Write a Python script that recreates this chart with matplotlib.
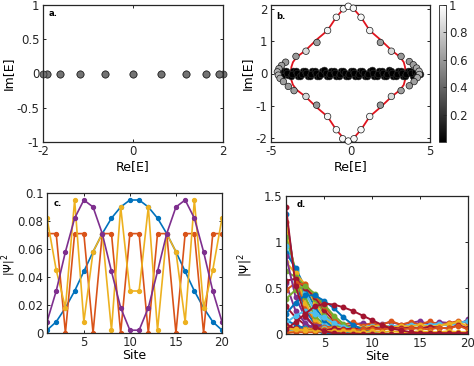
import matplotlib
matplotlib.use('Agg')
import matplotlib.pyplot as plt
import numpy as np

# ---- data ----

# a. eigenvalues of the hermitian ring
eig_a_re = [2.0, 1.902, 1.902, 1.618, 1.618, 1.176, 1.176, 0.618, 0.618, 0.0,
            0.0, -0.618, -0.618, -1.176, -1.176, -1.618, -1.618, -1.902, -1.902, -2.0]
eig_a_im = [0, 0, 0, 0, 0, 0, 0, 0, 0, 0, 0, 0, 0, 0, 0, 0, 0, 0, 0, 0]

# b. spectrum, outer points (with colour value) and the dense band on the real axis
env_re = [-0.45, -0.14, 0.18, -0.89, 0.66, -1.44, 1.21, -2.11, 1.88, -2.80, 2.57, -3.43, 3.18,
          -4.08, -4.33, -4.50, -4.60, -4.54, -4.43, -4.22, -3.91,
          3.70, 3.95, 4.16, 4.31, 4.33, 4.20, 4.00, 3.70,
          -3.55, 3.18, -2.80, 2.57, -2.13, 1.88, -1.44, 1.21, -0.89, 0.66, -0.49, -0.14, 0.22]
env_im = [2.00, 2.08, 2.02, 1.74, 1.74, 1.33, 1.33, 0.96, 0.96, 0.69, 0.69, 0.53, 0.53,
          0.35, 0.25, 0.15, 0.05, -0.05, -0.15, -0.25, -0.40,
          0.37, 0.27, 0.17, 0.07, -0.03, -0.13, -0.25, -0.38,
          -0.53, -0.53, -0.71, -0.71, -0.98, -0.98, -1.33, -1.33, -1.74, -1.74, -2.02, -2.09, -2.02]
env_c = [0.97, 1.0, 0.97, 0.97, 0.97, 0.95, 0.95, 0.62, 0.62, 0.85, 0.85, 0.6, 0.6,
         0.6, 0.62, 0.66, 0.7, 0.7, 0.66, 0.62, 0.6,
         0.6, 0.62, 0.66, 0.7, 0.7, 0.66, 0.62, 0.6,
         0.62, 0.62, 0.85, 0.85, 0.6, 0.6, 0.95, 0.95, 0.97, 0.97, 0.97, 1.0, 0.97]

band_re = [-4.35, -4.20, -4.28, -4.05, -3.90, -3.97, -3.75, -3.60, -3.68, -3.45, -3.30, -3.37,
           -3.15, -3.00, -3.08, -2.85, -2.70, -2.78, -2.55, -2.40, -2.47, -2.25, -2.10, -2.18,
           -1.95, -1.80, -1.88, -1.65, -1.50, -1.57, -1.35, -1.20, -1.28, -1.05, -0.90, -0.97,
           -0.75, -0.60, -0.68, -0.45, -0.30, -0.37, -0.15, 0.00, -0.08, 0.15, 0.30, 0.22,
           0.45, 0.60, 0.52, 0.75, 0.90, 0.82, 1.05, 1.20, 1.12, 1.35, 1.50, 1.42,
           1.65, 1.80, 1.72, 1.95, 2.10, 2.02, 2.25, 2.40, 2.32, 2.55, 2.70, 2.62,
           2.85, 3.00, 2.92, 3.15, 3.30, 3.22, 3.45, 3.60, 3.52, 3.75, 3.90, 3.82,
           4.05, 4.20, 4.35]
band_im = [0.00, 0.07, -0.07, 0.08, -0.05, 0.02, -0.08, 0.07, 0.00, 0.09, -0.07, 0.02,
           -0.09, 0.08, 0.00, 0.07, -0.09, 0.03, -0.07, 0.09, 0.00, 0.08, -0.08, 0.02,
           -0.09, 0.07, 0.00, 0.10, -0.08, 0.03, -0.07, 0.09, 0.00, 0.08, -0.09, 0.02,
           -0.08, 0.07, 0.00, 0.09, -0.07, 0.03, -0.09, 0.08, 0.00, 0.07, -0.08, 0.02,
           -0.07, 0.09, 0.00, 0.08, -0.09, 0.03, -0.08, 0.07, 0.00, 0.10, -0.08, 0.02,
           -0.07, 0.09, 0.00, 0.08, -0.09, 0.03, -0.08, 0.10, 0.00, 0.07, -0.08, 0.02,
           -0.09, 0.08, 0.00, 0.07, -0.07, 0.03, -0.08, 0.08, 0.00, 0.07, -0.07, 0.02,
           0.05, -0.05, 0.00]

# b. red boundary curve
red_re = [-0.12, 0.20, 0.66, 1.21, 1.85, 2.60, 3.12, 3.35, 3.43, 3.45, 3.43, 3.35, 3.12, 2.60,
          1.85, 1.21, 0.66, 0.20, -0.12, -0.44, -0.90, -1.45, -2.10, -2.84, -3.38, -3.62,
          -3.72, -3.75, -3.72, -3.62, -3.38, -2.84, -2.10, -1.45, -0.90, -0.44, -0.12]
red_im = [2.07, 2.00, 1.74, 1.33, 1.06, 0.71, 0.51, 0.35, 0.20, 0.00, -0.20, -0.35, -0.51, -0.71,
          -1.06, -1.33, -1.74, -2.00, -2.07, -2.00, -1.74, -1.33, -1.06, -0.71, -0.51, -0.35,
          -0.20, 0.00, 0.20, 0.35, 0.51, 0.71, 1.06, 1.33, 1.74, 2.00, 2.07]

# c. four eigenstates
site = np.arange(1, 21)
psi_blue = [0.002, 0.008, 0.018, 0.030, 0.044, 0.058, 0.071, 0.082, 0.090, 0.095,
            0.095, 0.090, 0.082, 0.071, 0.058, 0.044, 0.030, 0.018, 0.008, 0.002]
psi_red = [0.071, 0.071, 0.0, 0.071, 0.071, 0.0, 0.071, 0.071, 0.0, 0.071,
           0.071, 0.0, 0.071, 0.071, 0.0, 0.071, 0.071, 0.0, 0.071, 0.071]
psi_yellow = [0.082, 0.045, 0.018, 0.095, 0.008, 0.058, 0.071, 0.002, 0.090, 0.030,
              0.030, 0.090, 0.002, 0.071, 0.058, 0.008, 0.095, 0.018, 0.045, 0.082]
psi_purple = [0.008, 0.030, 0.058, 0.082, 0.095, 0.090, 0.071, 0.044, 0.018, 0.002,
              0.002, 0.018, 0.044, 0.071, 0.090, 0.095, 0.082, 0.058, 0.030, 0.008]

# d. skin-mode eigenstates
psi_d = [
    [1.30, 0.58, 0.26, 0.11, 0.05, 0.02, 0.01, 0, 0, 0, 0, 0, 0, 0, 0, 0, 0, 0, 0, 0],
    [1.22, 0.62, 0.30, 0.14, 0.06, 0.03, 0.01, 0, 0, 0, 0, 0, 0, 0, 0, 0, 0, 0, 0, 0],
    [1.14, 0.66, 0.34, 0.16, 0.08, 0.04, 0.02, 0.01, 0, 0, 0, 0, 0, 0, 0, 0, 0, 0, 0, 0],
    [0.03, 0.06, 0.08, 0.09, 0.10, 0.09, 0.08, 0.10, 0.12, 0.09, 0.11, 0.13, 0.10, 0.12, 0.14, 0.10, 0.13, 0.12, 0.10, 0.16],
    [1.05, 0.70, 0.40, 0.20, 0.10, 0.05, 0.02, 0.01, 0, 0, 0, 0, 0, 0, 0, 0, 0, 0, 0, 0],
    [0.96, 0.68, 0.45, 0.25, 0.12, 0.06, 0.03, 0.01, 0, 0, 0, 0, 0, 0, 0, 0, 0, 0, 0, 0],
    [0.30, 0.18, 0.10, 0.05, 0.02, 0.01, 0, 0, 0, 0, 0, 0, 0, 0, 0, 0, 0, 0, 0, 0],
    [0.88, 0.72, 0.50, 0.30, 0.15, 0.07, 0.03, 0.01, 0, 0, 0, 0, 0, 0, 0, 0, 0, 0, 0, 0],
    [0.08, 0.05, 0.07, 0.06, 0.08, 0.07, 0.10, 0.13, 0.09, 0.12, 0.10, 0.14, 0.10, 0.13, 0.10, 0.14, 0.10, 0.12, 0.14, 0.12],
    [0.78, 0.66, 0.54, 0.34, 0.18, 0.09, 0.04, 0.02, 0.01, 0, 0, 0, 0, 0, 0, 0, 0, 0, 0, 0],
    [0.55, 0.25, 0.12, 0.05, 0.02, 0.01, 0, 0, 0, 0, 0, 0, 0, 0, 0, 0, 0, 0, 0, 0],
    [0.68, 0.62, 0.52, 0.38, 0.22, 0.11, 0.05, 0.02, 0.01, 0, 0, 0, 0, 0, 0, 0, 0, 0, 0, 0],
    [0.05, 0.04, 0.06, 0.05, 0.06, 0.05, 0.07, 0.08, 0.07, 0.09, 0.08, 0.09, 0.08, 0.10, 0.09, 0.10, 0.11, 0.09, 0.12, 0.14],
    [0.58, 0.60, 0.50, 0.40, 0.26, 0.14, 0.07, 0.03, 0.01, 0, 0, 0, 0, 0, 0, 0, 0, 0, 0, 0],
    [0.15, 0.10, 0.06, 0.03, 0.01, 0, 0, 0, 0, 0, 0, 0, 0, 0, 0, 0, 0, 0, 0, 0],
    [0.48, 0.55, 0.54, 0.42, 0.30, 0.17, 0.09, 0.04, 0.02, 0.01, 0, 0, 0, 0, 0, 0, 0, 0, 0, 0],
    [0.02, 0.03, 0.05, 0.06, 0.05, 0.07, 0.06, 0.08, 0.07, 0.08, 0.10, 0.07, 0.09, 0.08, 0.10, 0.08, 0.09, 0.11, 0.13, 0.08],
    [0.85, 0.40, 0.18, 0.08, 0.03, 0.01, 0, 0, 0, 0, 0, 0, 0, 0, 0, 0, 0, 0, 0, 0],
    [0.38, 0.48, 0.52, 0.44, 0.32, 0.20, 0.11, 0.05, 0.02, 0.01, 0, 0, 0, 0, 0, 0, 0, 0, 0, 0],
    [0.12, 0.20, 0.25, 0.22, 0.18, 0.12, 0.08, 0.05, 0.03, 0.02, 0.01, 0, 0, 0, 0, 0, 0, 0, 0, 0],
    [0.10, 0.06, 0.04, 0.05, 0.04, 0.06, 0.05, 0.06, 0.05, 0.07, 0.06, 0.07, 0.06, 0.07, 0.06, 0.08, 0.07, 0.06, 0.10, 0.06],
    [0.22, 0.34, 0.42, 0.42, 0.36, 0.28, 0.18, 0.10, 0.05, 0.02, 0.01, 0, 0, 0, 0, 0, 0, 0, 0, 0],
    [0.01, 0.02, 0.02, 0.02, 0.03, 0.03, 0.04, 0.04, 0.05, 0.05, 0.05, 0.06, 0.05, 0.06, 0.06, 0.05, 0.07, 0.06, 0.09, 0.05],
    [0.06, 0.05, 0.04, 0.04, 0.03, 0.03, 0.03, 0.03, 0.02, 0.03, 0.02, 0.03, 0.02, 0.02, 0.03, 0.02, 0.02, 0.03, 0.02, 0.02],
]
psi_d_top = [1.38, 0.52, 0.20, 0.08, 0.03, 0.01, 0, 0, 0, 0, 0, 0, 0, 0, 0, 0, 0, 0, 0, 0]
psi_d_peak = [0.05, 0.13, 0.22, 0.30, 0.33, 0.32, 0.29, 0.25, 0.20, 0.15,
              0.10, 0.06, 0.04, 0.02, 0.01, 0.01, 0.01, 0.01, 0.01, 0.01]

# matlab default colour order
mcolors = ['#0072BD', '#D95319', '#EDB120', '#7E2F8E', '#77AC30', '#4DBEEE', '#A2142F']

# ---- style ----
plt.rcParams.update({
    'font.family': 'DejaVu Sans',
    'font.size': 8.5,
    'axes.unicode_minus': False,
    'axes.linewidth': 0.9,
    'axes.edgecolor': '0.15',
    'xtick.direction': 'in',
    'ytick.direction': 'in',
    'xtick.top': True,
    'ytick.right': True,
    'xtick.major.size': 2.5,
    'ytick.major.size': 2.5,
    'xtick.major.width': 0.7,
    'ytick.major.width': 0.7,
    'xtick.color': '0.15',
    'ytick.color': '0.15',
    'xtick.major.pad': 2.5,
    'ytick.major.pad': 2.5,
})

fig = plt.figure(figsize=(4.74, 3.66), dpi=100)
ax_a = fig.add_axes([43/474, 1 - 142/366, 180/474, 137/366])
ax_b = fig.add_axes([271/474, 1 - 142/366, 159/474, 137/366])
cax = fig.add_axes([439/474, 1 - 142/366, 7/474, 137/366])
ax_c = fig.add_axes([47/474, 1 - 333/366, 175/474, 140/366])
ax_d = fig.add_axes([286/474, 1 - 334/366, 182/474, 138/366])

# a.
ax_a.plot(eig_a_re, eig_a_im, 'o', mfc='0.45', mec='0.2', ms=5, mew=0.6, clip_on=False)
ax_a.set_xlim(-2, 2)
ax_a.set_ylim(-1, 1)
ax_a.set_xticks([-2, 0, 2])
ax_a.set_yticks([-1, -0.5, 0, 0.5, 1])
ax_a.set_yticklabels(['-1', '-0.5', '0', '0.5', '1'])
ax_a.set_xlabel('Re[E]', fontsize=9, labelpad=1)
ax_a.set_ylabel('Im[E]', fontsize=9, labelpad=1)
ax_a.text(0.03, 0.92, 'a.', transform=ax_a.transAxes, fontsize=6, fontweight='bold')

# b.
ax_b.plot(red_re, red_im, color='#E0141E', lw=1.3, zorder=1)
ax_b.scatter(band_re, band_im, s=24, color='black', edgecolors='0.2', linewidths=0.4, zorder=2)
sc = ax_b.scatter(env_re, env_im, s=22, c=env_c, cmap='gray', vmin=0, vmax=1,
                  edgecolors='0.1', linewidths=0.5, zorder=3, clip_on=False)
ax_b.set_xlim(-5, 5)
ax_b.set_ylim(-2.12, 2.12)
ax_b.set_xticks([-5, 0, 5])
ax_b.set_yticks([-2, -1, 0, 1, 2])
ax_b.set_xlabel('Re[E]', fontsize=9, labelpad=1)
ax_b.set_ylabel('Im[E]', fontsize=9, labelpad=1)
ax_b.text(0.03, 0.9, 'b.', transform=ax_b.transAxes, fontsize=6, fontweight='bold')

cb = fig.colorbar(sc, cax=cax, ticks=[0.2, 0.4, 0.6, 0.8, 1])
cb.ax.set_yticklabels(['0.2', '0.4', '0.6', '0.8', '1'])
cb.ax.tick_params(direction='in', length=2, width=0.6, pad=2)
cb.outline.set_linewidth(0.6)

# c.
ax_c.plot(site, psi_blue, 'o-', color=mcolors[0], lw=1.2, ms=2.8)
ax_c.plot(site, psi_red, 'o-', color=mcolors[1], lw=1.2, ms=2.8)
ax_c.plot(site, psi_yellow, 'o-', color=mcolors[2], lw=1.2, ms=2.8)
ax_c.plot(site, psi_purple, 'o-', color=mcolors[3], lw=1.2, ms=2.8)
ax_c.set_xlim(1, 20)
ax_c.set_ylim(0, 0.1)
ax_c.set_xticks([5, 10, 15, 20])
ax_c.set_yticks([0, 0.02, 0.04, 0.06, 0.08, 0.1])
ax_c.set_yticklabels(['0', '0.02', '0.04', '0.06', '0.08', '0.1'])
ax_c.set_xlabel('Site', fontsize=9, labelpad=0)
ax_c.set_ylabel('|Ψ|$^2$', fontsize=8)
ax_c.yaxis.set_label_coords(-0.165, 0.49)
ax_c.text(0.035, 0.91, 'c.', transform=ax_c.transAxes, fontsize=6, fontweight='bold')

# d.
for i, p in enumerate(psi_d):
    ax_d.plot(site, p, 'o-', color=mcolors[i % 7], lw=1.4, ms=3.2)
ax_d.plot(site, psi_d_top, 'o-', color=mcolors[6], lw=1.4, ms=3.2)
ax_d.plot(site, psi_d_peak, 'o-', color=mcolors[6], lw=1.4, ms=3.2)
ax_d.set_xlim(1, 20)
ax_d.set_ylim(0, 1.5)
ax_d.set_xticks([5, 10, 15, 20])
ax_d.set_yticks([0, 0.5, 1, 1.5])
ax_d.set_yticklabels(['0', '0.5', '1', '1.5'])
ax_d.set_xlabel('Site', fontsize=9, labelpad=0)
ax_d.set_ylabel('|Ψ|$^2$', fontsize=8.5)
ax_d.yaxis.set_label_coords(-0.17, 0.5)
ax_d.text(0.06, 0.92, 'd.', transform=ax_d.transAxes, fontsize=6, fontweight='bold')

fig.savefig('out.png', dpi=100)
